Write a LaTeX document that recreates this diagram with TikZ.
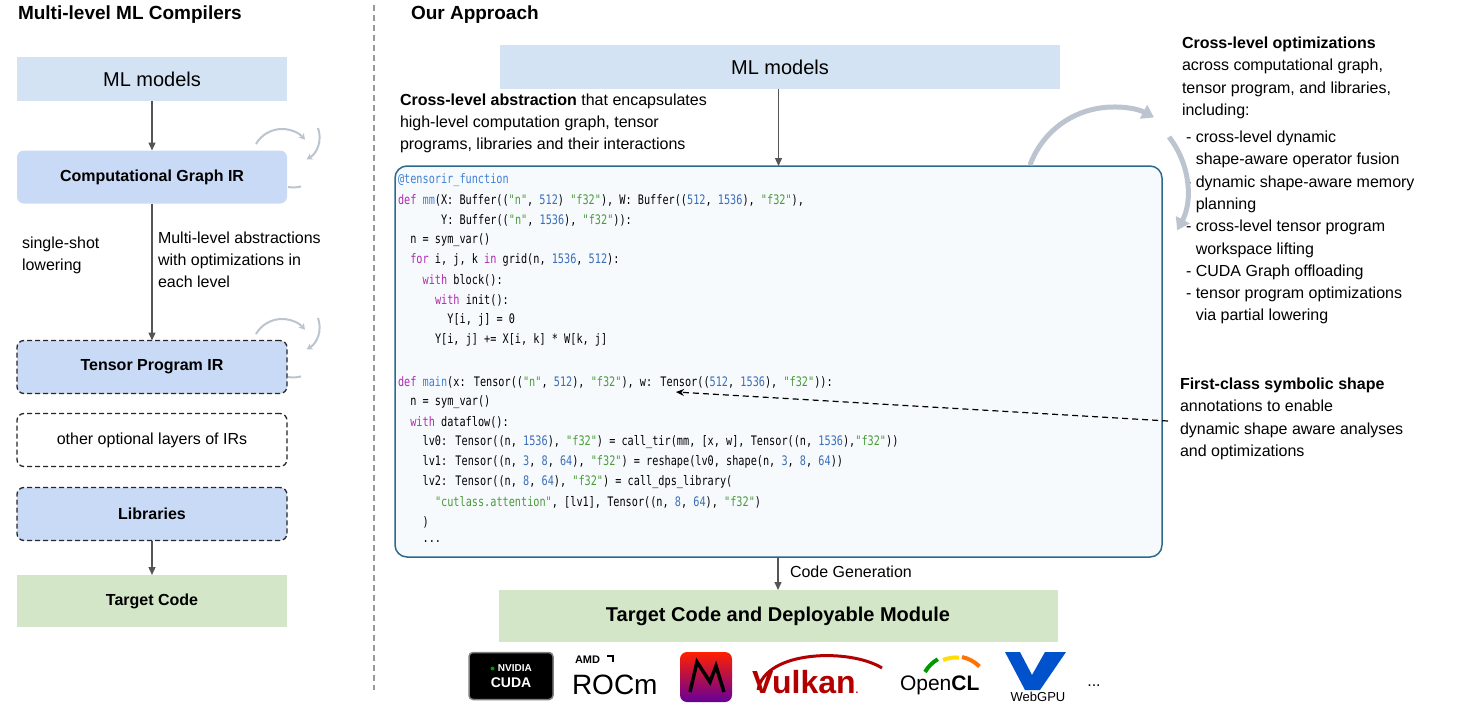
\documentclass[tikz,border=0pt]{standalone}
\usepackage{fontspec}
\setmainfont{Liberation Sans}
\newfontfamily\codefont[FakeStretch=0.78]{DejaVu Sans Mono}
\usetikzlibrary{arrows.meta,shapes.geometric}
\definecolor{boxblue}{HTML}{D3E3F3}
\definecolor{irblue}{HTML}{C9DAF6}
\definecolor{tgreen}{HTML}{D3E7C8}
\definecolor{loopgray}{HTML}{BCC4CF}
\definecolor{arrgray}{HTML}{555555}
\definecolor{codeborder}{HTML}{2C6A8C}
\definecolor{codebg}{HTML}{F7FAFD}
\definecolor{ckw}{HTML}{B02AAE}
\definecolor{cfn}{HTML}{3F7FD6}
\definecolor{cnum}{HTML}{3A6DB8}
\definecolor{cstr}{HTML}{4A9A3A}
\newcommand{\kw}[1]{\textcolor{ckw}{#1}}
\newcommand{\fnm}[1]{\textcolor{cfn}{#1}}
\newcommand{\nm}[1]{\textcolor{cnum}{#1}}
\newcommand{\str}[1]{\textcolor{cstr}{#1}}
\begin{document}
\begin{tikzpicture}[x=1pt,y=-1pt,
  every node/.style={inner sep=0pt,outer sep=0pt},
  ttl/.style={anchor=west,font=\fontsize{19}{22}\selectfont\bfseries},
  mlbox/.style={fill=boxblue,minimum height=44pt,font=\fontsize{20}{24}\selectfont},
  irbox/.style={fill=irblue,rounded corners=7pt,minimum width=270pt,minimum height=53pt,font=\fontsize{16}{19}\selectfont\bfseries},
  dbox/.style={draw=black!85,dashed,line width=1.3pt,dash pattern=on 5pt off 3pt},
  tbox/.style={fill=tgreen,minimum height=52pt,font=\fontsize{16}{19}\selectfont\bfseries},
  txt/.style={anchor=west,font=\fontsize{16}{19}\selectfont},
  arr/.style={-{Triangle[length=8pt,width=7pt]},line width=1.3pt,draw=arrgray},
  loop/.style={line width=2pt,draw=loopgray,-{Stealth[length=6pt,width=7pt]}},
  cl/.style={anchor=west,font=\codefont\fontsize{13.1}{15}\selectfont},
]
\useasboundingbox (0,0) rectangle (1474,720);
% ---------- left ----------
\node[ttl] (t1) at (18,15) {Multi-level ML Compilers};
\draw[dashed,line width=1.2pt,gray!80,dash pattern=on 6pt off 4pt] (374,5) -- (374,690);
\node[ttl] (t2) at (411,15) {Our Approach};

\node[mlbox,minimum width=270pt] (lml) at (152,79) {ML models};
\node[irbox] (lcg) at (152,177) {Computational Graph IR};
\node[irbox,dbox] (ltp) at (152,367) {Tensor Program IR};
\node[irbox,dbox,fill=white,font=\fontsize{16}{19}\selectfont] (lopt) at (152,440) {other optional layers of IRs};
\node[irbox,dbox] (llib) at (152,514) {Libraries};
\node[tbox,minimum width=270pt] (ltg) at (152,601) {Target Code};
\draw[arr] (lml) -- (lcg);
\draw[arr] (lcg) -- (ltp);
\draw[arr] (llib) -- (ltg);
\node[txt,align=left] (ssl) at (22,255) {single-shot\\[3pt]lowering};
\node[txt,align=left] (mla) at (158,260) {Multi-level abstractions\\[3pt]with optimizations in\\[3pt]each level};
% self loops
\foreach \cy in {150,340}{
  \begin{scope}[shift={(288,\cy)}]
  \draw[loop] (-32,-6) arc[start angle=-150,end angle=-40,radius=30];
  \draw[loop] (30,-22) arc[start angle=-20,end angle=60,radius=26];
  \draw[line width=2pt,draw=loopgray] (0,37) arc[start angle=100,end angle=75,radius=30];
  \end{scope}
}

% ---------- right ----------
\node[mlbox,minimum width=560pt] (rml) at (780,67) {ML models};
\node[txt,align=left,anchor=north west] (cla) at (400,94) {\textbf{Cross-level abstraction} that encapsulates\\[3pt]high-level computation graph, tensor\\[3pt]programs, libraries and their interactions};
\node[draw=codeborder,line width=1.5pt,fill=codebg,rounded corners=12pt,minimum width=767pt,minimum height=391pt,anchor=north west] (code) at (395,166) {};
\draw[arr] (rml.south -| code.north) -- (code.north);

\def\cx{398}
\def\cw{6.17}
\node[cl] (l1) at (\cx,180) {\fnm{@tensorir\_function}};
\node[cl] (l2) at (\cx,200) {\kw{def} \fnm{mm}(X: Buffer((\str{"n"}, \nm{512}) \str{"f32"}), W: Buffer((\nm{512}, \nm{1536}), \str{"f32"}),};
\node[cl] (l3) at (\cx+7*\cw,220) {Y: Buffer((\str{"n"}, \nm{1536}), \str{"f32"})):};
\node[cl] (l4) at (\cx+2*\cw,240) {n = sym\_var()};
\node[cl] (l5) at (\cx+2*\cw,260) {\kw{for} i, j, k \kw{in} grid(n, \nm{1536}, \nm{512}):};
\node[cl] (l6) at (\cx+4*\cw,280) {\kw{with} block():};
\node[cl] (l7) at (\cx+6*\cw,300) {\kw{with} init():};
\node[cl] (l8) at (\cx+8*\cw,320) {Y[i, j] = 0};
\node[cl] (l9) at (\cx+6*\cw,340) {Y[i, j] += X[i, k] * W[k, j]};
\node[cl] (l10) at (\cx,382) {\kw{def} \fnm{main}(x: Tensor((\str{"n"}, \nm{512}), \str{"f32"}), w: Tensor((\nm{512}, \nm{1536}), \str{"f32"})):};
\node[cl] (l11) at (\cx+2*\cw,402) {n = sym\_var()};
\node[cl] (l12) at (\cx+2*\cw,422) {\kw{with} dataflow():};
\node[cl] (l13) at (\cx+4*\cw,442) {lv0: Tensor((n, \nm{1536}), \str{"f32"}) = call\_tir(mm, [x, w], Tensor((n, \nm{1536}),\str{"f32"}))};
\node[cl] (l14) at (\cx+4*\cw,462) {lv1: Tensor((n, \nm{3}, \nm{8}, \nm{64}), \str{"f32"}) = reshape(lv0, shape(n, \nm{3}, \nm{8}, \nm{64}))};
\node[cl] (l15) at (\cx+4*\cw,482) {lv2: Tensor((n, \nm{8}, \nm{64}), \str{"f32"}) = call\_dps\_library(};
\node[cl] (l16) at (\cx+6*\cw,502) {\str{"cutlass.attention"}, [lv1], Tensor((n, \nm{8}, \nm{64}), \str{"f32"})};
\node[cl] (l17) at (\cx+4*\cw,522) {)};
\node[cl] (l18) at (\cx+4*\cw,542) {...};

% cross-level optimization text
\node[txt,align=left,anchor=north west] (clo) at (1182,37) {\textbf{Cross-level optimizations}\\[3.3pt]across computational graph,\\[3.3pt]tensor program, and libraries,\\[3.3pt]including:};
\node[txt,align=left,anchor=north west] (items) at (1186,131) {- cross-level dynamic\\[3.3pt]\phantom{- }shape-aware operator fusion\\[3.3pt]- dynamic shape-aware memory\\[3.3pt]\phantom{- }planning\\[3.3pt]- cross-level tensor program\\[3.3pt]\phantom{- }workspace lifting\\[3.3pt]- CUDA Graph offloading\\[3.3pt]- tensor program optimizations\\[3.3pt]\phantom{- }via partial lowering};
% big curved arrows
\draw[line width=5pt,draw=loopgray,-{Triangle[length=12pt,width=15pt]}] (1030,165) arc[start angle=-160,end angle=-62,radius=88];
\draw[line width=5pt,draw=loopgray,-{Triangle[length=12pt,width=15pt]}] (1169,137) arc[start angle=-38,end angle=28,radius=86];

\node[txt,align=left,anchor=north west] (fcs) at (1180,378) {\textbf{First-class symbolic shape}\\[3.3pt]annotations to enable\\[3.3pt]dynamic shape aware analyses\\[3.3pt]and optimizations};
\coordinate (fcsend) at (1168,421);
\coordinate (fcstip) at (676,392);
\draw[dashed,line width=1.2pt,dash pattern=on 6pt off 4pt,-{Stealth[length=8pt,width=7pt]}] (fcsend) -- (fcstip);

\node[tbox,minimum width=559pt,font=\fontsize{20}{24}\selectfont\bfseries] (rtg) at (778,616) {Target Code and Deployable Module};
\draw[arr] (code.south -| rtg.north) -- (rtg.north);
\node[txt] (cg) at (790,572) {Code Generation};

% ---------- logos ----------
\node[fill=black,draw=gray,line width=1.5pt,rounded corners=4pt,minimum width=84pt,minimum height=47pt,align=center,text=white,font=\fontsize{10}{12}\selectfont\bfseries] (nv) at (511,676) {\textcolor{green!60!black}{$\bullet$} NVIDIA\\[4pt]{\fontsize{14}{16}\selectfont CUDA}};
\node[font=\fontsize{11}{12}\selectfont\bfseries,anchor=west] (amd) at (575,660) {AMD};
\draw[line width=1.6pt] (607,656) -- (613,656) -- (613,662);
\node[font=\fontsize{28}{30}\selectfont,anchor=west] (rocm) at (572,685) {ROCm};
\shade[top color=red!75!orange,bottom color=violet!80!blue,rounded corners=7pt] (680,652) rectangle (732,702);
\draw[line width=3.5pt,line join=miter] (690,692) -- (697,662) -- (710,682) -- (716,666) -- (724,692);
\node[font=\fontsize{32}{34}\selectfont\bfseries,text=red!70!black,anchor=west] (vk) at (752,682) {Vulkan\textcolor{red!70!black}{\fontsize{10}{10}\selectfont.}};
\draw[line width=3pt,red!70!black] (758,690) .. controls (765,650) and (850,648) .. (882,668);
\node[font=\fontsize{21}{24}\selectfont,anchor=west] (ocl) at (900,685) {Open\textbf{CL}};
\draw[line width=4pt,green!60!black] (925,672) arc[start angle=-150,end angle=-120,radius=35];
\draw[line width=4pt,yellow!80!orange] (943,660) arc[start angle=-112,end angle=-85,radius=35];
\draw[line width=4pt,orange!90!red] (962,657) arc[start angle=-78,end angle=-45,radius=35];
\fill[blue!60!cyan!80!black] (1005,652) -- (1020,652) -- (1032,675) -- (1045,652) -- (1066,652) -- (1040,690) -- (1025,690) -- cycle;
\node[font=\fontsize{13}{15}\selectfont] (wg) at (1038,697) {WebGPU};
\node[font=\fontsize{16}{18}\selectfont] (dots) at (1094,686) {...};
\end{tikzpicture}
\end{document}
